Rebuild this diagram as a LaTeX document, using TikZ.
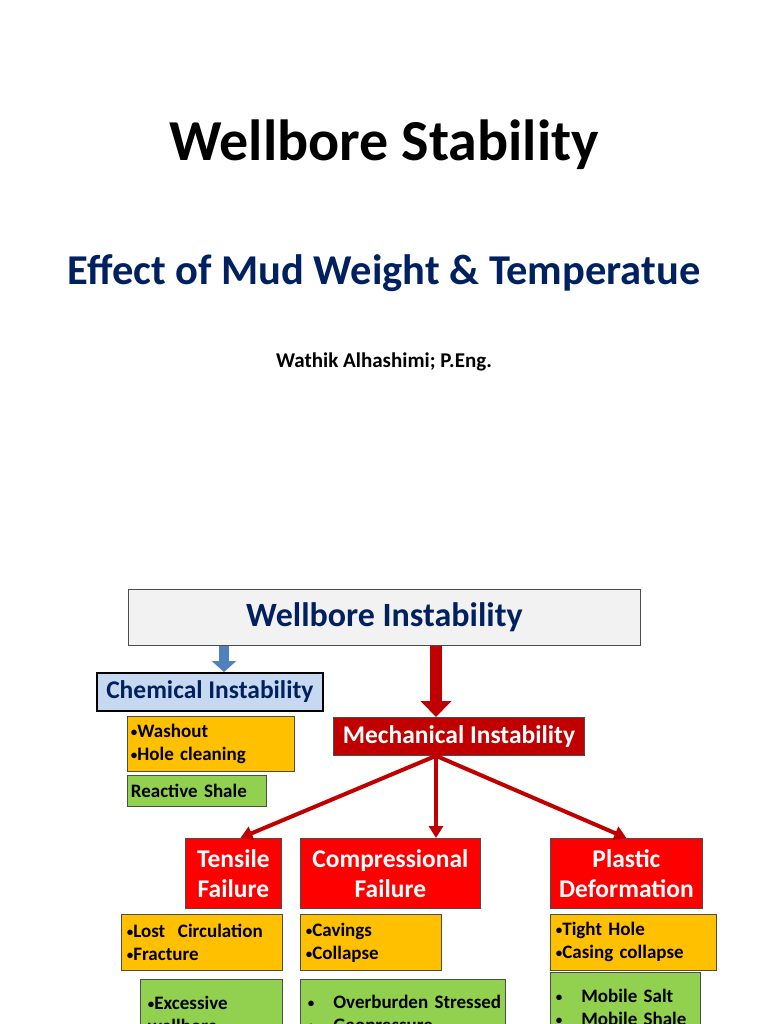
\documentclass[tikz,border=0pt]{standalone}
\usepackage{fontspec}
\setmainfont{Carlito}
\usetikzlibrary{positioning,calc,arrows.meta}
\definecolor{navy}{RGB}{0,32,96}
\definecolor{lgray}{RGB}{242,242,242}
\definecolor{lblue}{RGB}{198,217,241}
\definecolor{orng}{RGB}{255,192,0}
\definecolor{lgreen}{RGB}{146,208,80}
\definecolor{dred}{RGB}{192,0,0}
\definecolor{bblue}{RGB}{79,129,189}
\newcommand{\bul}{{\fontsize{13}{13}\selectfont\raisebox{1pt}{•}}}

\begin{document}
\begin{tikzpicture}[x=1pt,y=-1pt,
    box/.style={draw=black!70, line width=0.8pt, anchor=north west, inner sep=0pt, font=\bfseries},
    head/.style={box, fill=red, text=white, align=center, font=\bfseries\fontsize{25.5}{30}\selectfont},
    item/.style={box, fill=orng, align=left, font=\bfseries\fontsize{19}{23}\selectfont},
    cause/.style={box, fill=lgreen, align=left, font=\bfseries\fontsize{19}{23}\selectfont},
    branch/.style={draw=dred, line width=4pt, -{Triangle[width=14pt,length=12pt]}}]

    \useasboundingbox (0,0) rectangle (768,1024);
    \clip (0,0) rectangle (768,1024);

    % titles
    \node[font=\bfseries\fontsize{58}{62}\selectfont] (title) at (384,145) {Wellbore Stability};
    \node[font=\bfseries\fontsize{42.5}{48}\selectfont, text=navy] (subtitle) at (384,273) {Effect of Mud Weight \& Temperatue};
    \node[font=\bfseries\fontsize{21}{24}\selectfont] (author) at (384,362) {Wathik Alhashimi; P.Eng.};

    % top of the tree
    \node[box, fill=lgray, text=navy, minimum width=512pt, minimum height=56pt,
          font=\bfseries\fontsize{34}{38}\selectfont] (wi) at (128,589) {Wellbore Instability};
    \node[box, fill=lblue, text=navy, draw=black, line width=1.6pt, minimum width=226pt, minimum height=38pt,
          font=\bfseries\fontsize{25.5}{28}\selectfont] (ci) at (96,672) {Chemical Instability};
    \node[box, fill=dred, text=white, minimum width=251pt, minimum height=38pt,
          font=\bfseries\fontsize{25.5}{28}\selectfont] (mi) at (333,717) {Mechanical Instability};

    \node[item, minimum width=167pt, minimum height=55pt, text width=164pt] (wash) at (127,716)
        {\hspace*{2pt}\bul Washout\\\hspace*{2pt}\bul Hole cleaning};
    \node[cause, minimum width=139pt, minimum height=31pt, text width=136pt] (rs) at (127,775)
        {\hspace*{2pt}Reactive Shale};

    % failure types
    \node[head, minimum width=96pt, minimum height=70pt] (tf) at (185,838) {Tensile\\Failure};
    \node[head, minimum width=180pt, minimum height=70pt] (cf) at (300,838) {Compressional\\Failure};
    \node[head, minimum width=152pt, minimum height=70pt] (pd) at (550,838) {Plastic\\Deformation};

    \node[item, minimum width=161pt, minimum height=56pt, text width=158pt] (tfi) at (121,914)
        {\hspace*{4pt}\bul Lost~ Circulation\\\hspace*{4pt}\bul Fracture};
    \node[item, minimum width=141pt, minimum height=56pt, text width=138pt] (cfi) at (300,914)
        {\hspace*{4pt}\bul Cavings\\\hspace*{4pt}\bul Collapse};
    \node[item, minimum width=166pt, minimum height=56pt, text width=163pt] (pdi) at (550,914)
        {\hspace*{4pt}\bul Tight Hole\\\hspace*{4pt}\bul Casing collapse};

    \node[cause, minimum width=142pt, minimum height=70pt, text width=139pt] (tfc) at (140,979)
        {\hspace*{6pt}\bul Excessive\\\hspace*{6pt}wellbore};
    \node[cause, minimum width=205pt, minimum height=70pt, text width=202pt] (cfc) at (300,979)
        {\hspace*{6pt}\bul~~ Overburden Stressed\\\hspace*{6pt}\bul~~ Geopressure};
    \node[cause, minimum width=150pt, minimum height=70pt, text width=147pt] (pdc) at (550,972)
        {\hspace*{4pt}\bul~~ Mobile Salt\\\hspace*{4pt}\bul~~ Mobile Shale};

    % block arrows
    \draw[bblue, line width=10pt, -{Triangle[width=24pt,length=11pt]}] (wi.south -| 224,0) -- (ci.north -| 224,0);
    \draw[dred, line width=12pt, -{Triangle[width=30pt,length=16pt]}] (wi.south -| 436,0) -- (mi.north -| 436,0);

    % branches
    \draw[branch] (mi.south -| 436,0) -- ([xshift=7pt]tf.north);
    \draw[branch] (mi.south -| 436,0) -- (cf.north -| 436,0);
    \draw[branch] (mi.south -| 436,0) -- (pd.north);

\end{tikzpicture}
\end{document}
